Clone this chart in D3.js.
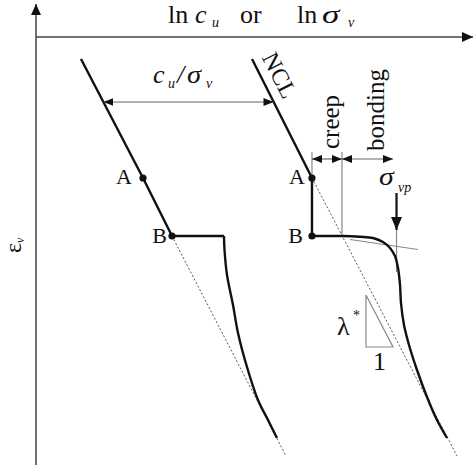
<!DOCTYPE html>
<html>
  <head>
    <meta charset="utf-8" />
    <script src="https://d3js.org/d3.v7.min.js"></script>
    <style>
      body { margin: 0; background: #fff; }
      text { font-family: "Liberation Serif", "Times New Roman", serif; fill: #111; }
    </style>
  </head>
  <body>
    <svg id="chart" width="474" height="465"></svg>
    <script>
      // abstract units: u = ln(cu or sigma_v) 0..100, v = eps_v 0..100 (down)
      var cuLine = [[10.27, 5.14], [24.43, 32.94], [31.05, 46.5], [42.92, 46.5]];
      var cuCurve = [[42.92, 46.5], [43.04, 49.77], [43.61, 55.61], [44.98, 62.62], [46.12, 69.16],
        [48.17, 77.1], [50.68, 84.81], [52.97, 89.49], [55.02, 93.69]];
      var nclLine = [[49.32, 5.14], [63.01, 32.94], [63.01, 46.5]];
      var nclCurve = [[63.01, 46.5], [69.86, 46.5], [73.97, 46.68], [76.94, 46.96], [79.22, 47.9],
        [80.82, 49.3], [81.96, 51.17], [82.65, 53.97], [83.11, 57.94], [83.33, 62.15], [84.02, 67.29],
        [85.16, 71.96], [86.99, 77.8], [89.27, 84.11], [91.55, 89.49], [93.84, 93.69]];
      var dottedLines = [
        [[31.05, 46.5], [57.08, 97.9]],
        [[63.01, 32.94], [96.12, 97.9]]
      ];
      var greyLines = [
        [[63.01, 26.87], [63.01, 32.94]],
        [[69.86, 26.87], [69.86, 46.5]],
        [[71.69, 47.31], [87.21, 49.65]],
        [[82.31, 45.09], [82.31, 54.91]]
      ];
      var slopeTriangle = [[75.34, 60.28], [75.34, 72.43], [81.51, 72.43], [75.34, 60.28]];
      var points = [
        { label: "A", u: 24.43, v: 32.94 },
        { label: "B", u: 31.05, v: 46.5 },
        { label: "A", u: 63.01, v: 32.94 },
        { label: "B", u: 63.01, v: 46.5 }
      ];
      // double arrows: [u1, u2, v]
      var spanArrows = [[15.41, 54.22, 15.19], [63.01, 69.86, 28.5], [69.86, 81.51, 28.5]];
      var yieldArrow = [[82.31, 36.45], [82.31, 45.09]];

      var x = d3.scaleLinear().domain([0, 100]).range([36, 474]);
      var y = d3.scaleLinear().domain([0, 100]).range([37, 465]);
      var line = d3.line().x(function (d) { return x(d[0]); }).y(function (d) { return y(d[1]); });
      var smooth = d3.line().x(function (d) { return x(d[0]); }).y(function (d) { return y(d[1]); })
        .curve(d3.curveCatmullRom.alpha(0.5));

      var svg = d3.select("#chart");
      var defs = svg.append("defs");

      function marker(id, len, wid) {
        defs.append("marker")
          .attr("id", id)
          .attr("viewBox", "0 0 " + len + " " + wid)
          .attr("refX", len)
          .attr("refY", wid / 2)
          .attr("markerWidth", len)
          .attr("markerHeight", wid)
          .attr("markerUnits", "userSpaceOnUse")
          .attr("orient", "auto-start-reverse")
          .append("path")
          .attr("d", "M0,0 L" + len + "," + wid / 2 + " L0," + wid + " Z")
          .style("fill", "#111");
      }
      marker("head", 10, 8);
      marker("bigHead", 13, 11);
      marker("axisHead", 11, 10);

      // axes
      svg.append("line")
        .attr("x1", x(0)).attr("y1", y(100)).attr("x2", x(0)).attr("y2", 4)
        .attr("marker-end", "url(#axisHead)")
        .style("stroke", "#444").style("stroke-width", 1.5);
      svg.append("line")
        .attr("x1", x(0)).attr("y1", y(0)).attr("x2", 473).attr("y2", y(0))
        .attr("marker-end", "url(#axisHead)")
        .style("stroke", "#444").style("stroke-width", 1.5);

      // dotted reference lines
      svg.selectAll(".dotted").data(dottedLines).enter().append("path")
        .attr("d", line)
        .style("fill", "none").style("stroke", "#555").style("stroke-width", 1)
        .style("stroke-dasharray", "2,2");

      // grey construction lines
      svg.selectAll(".grey").data(greyLines).enter().append("path")
        .attr("d", line)
        .style("fill", "none").style("stroke", "#888").style("stroke-width", 1.2);

      svg.append("path").attr("d", line(slopeTriangle))
        .style("fill", "none").style("stroke", "#888").style("stroke-width", 1.2);

      // main curves
      [line(cuLine), smooth(cuCurve), line(nclLine), smooth(nclCurve)].forEach(function (d) {
        svg.append("path").attr("d", d)
          .style("fill", "none").style("stroke", "#111").style("stroke-width", 2.4)
          .style("stroke-linejoin", "round");
      });

      // span arrows
      svg.selectAll(".span").data(spanArrows).enter().append("line")
        .attr("x1", function (d) { return x(d[0]); })
        .attr("x2", function (d) { return x(d[1]); })
        .attr("y1", function (d) { return y(d[2]); })
        .attr("y2", function (d) { return y(d[2]); })
        .attr("marker-start", "url(#head)")
        .attr("marker-end", "url(#head)")
        .style("stroke", "#666").style("stroke-width", 1.2);

      svg.append("path").attr("d", line(yieldArrow))
        .attr("marker-end", "url(#bigHead)")
        .style("stroke", "#111").style("stroke-width", 2.2);

      // points
      svg.selectAll("circle").data(points).enter().append("circle")
        .attr("cx", function (d) { return x(d.u); })
        .attr("cy", function (d) { return y(d.v); })
        .attr("r", 3.6)
        .style("fill", "#111");

      var labelOffsets = [[-11, 6], [-5, 7], [-7, 6], [-9, 7]];
      svg.selectAll(".pt").data(points).enter().append("text")
        .attr("x", function (d, i) { return x(d.u) + labelOffsets[i][0]; })
        .attr("y", function (d, i) { return y(d.v) + labelOffsets[i][1]; })
        .attr("text-anchor", "end")
        .attr("font-size", 22)
        .text(function (d) { return d.label; });

      function txt(s, px, py, size, italic) {
        return svg.append("text").attr("x", px).attr("y", py)
          .attr("font-size", size)
          .style("font-style", italic ? "italic" : "normal")
          .text(s);
      }
      // wide, thin sigma like the original symbol font
      function sigma(px, py, size, sx) {
        return svg.append("text")
          .attr("transform", "translate(" + px + "," + py + ") scale(" + sx + ",1)")
          .attr("font-size", size)
          .style("font-style", "italic")
          .text("σ");
      }

      // title
      txt("ln", 168, 23, 26);
      txt("c", 195, 23, 26, true);
      txt("u", 212, 27, 14, true);
      txt("or", 240, 23, 26);
      txt("ln", 297, 23, 26);
      sigma(322, 23, 26, 1.35);
      txt("v", 348, 27, 14, true);

      // cu / sigma_v
      txt("c", 153, 83, 26, true);
      txt("u", 168, 88, 14, true);
      txt("/", 177, 83, 26, true);
      sigma(187, 83, 26, 1.1);
      txt("v", 206, 88, 14, true);

      // sigma_vp
      sigma(379, 185, 26, 1.15);
      txt("vp", 398, 192, 14, true);

      // lambda* and 1
      txt("λ", 337, 335, 26);
      txt("*", 353, 320, 14);
      txt("1", 373, 370, 26);

      // NCL (rotated along line)
      svg.append("text")
        .attr("transform", "translate(280,75) rotate(63)")
        .attr("text-anchor", "middle")
        .attr("dy", "0.35em")
        .attr("font-size", 24)
        .text("NCL");

      // creep / bonding
      svg.append("text")
        .attr("transform", "translate(339,149) rotate(-90)")
        .attr("font-size", 25)
        .text("creep");
      svg.append("text")
        .attr("transform", "translate(384,151) rotate(-90)")
        .attr("font-size", 25)
        .text("bonding");

      // eps_v
      var ev = svg.append("text")
        .attr("transform", "translate(21,253) rotate(-90)")
        .attr("font-size", 24);
      ev.append("tspan").text("ε");
      ev.append("tspan").attr("font-size", 12).attr("dy", 3).style("font-style", "italic").text("v");
    </script>
  </body>
</html>
